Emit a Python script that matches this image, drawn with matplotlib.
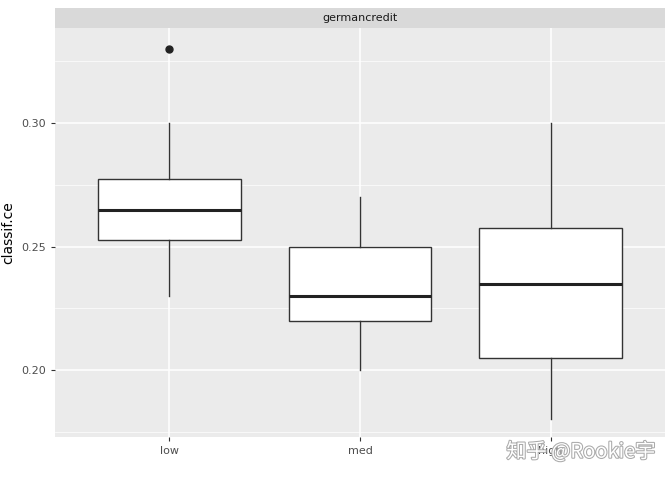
import matplotlib.pyplot as plt
import matplotlib.patheffects as pe
from matplotlib.patches import Rectangle

groups = ['low', 'med', 'high']
whislo = [0.23, 0.20, 0.18]
q1 = [0.2525, 0.22, 0.205]
med = [0.265, 0.23, 0.235]
q3 = [0.2775, 0.25, 0.2575]
whishi = [0.30, 0.27, 0.30]
fliers = [[0.33], [], []]

stats = [dict(label=g, whislo=a, q1=b, med=c, q3=d, whishi=e, fliers=f)
         for g, a, b, c, d, e, f in zip(groups, whislo, q1, med, q3, whishi, fliers)]

fig = plt.figure(figsize=(6.72, 4.8), dpi=100)
ax = fig.add_axes([55 / 672, 43 / 480, 610 / 672, 409 / 480])
ax.set_facecolor('#EBEBEB')
for s in ax.spines.values():
    s.set_visible(False)

ax.set_xlim(0.4, 3.6)
ax.set_ylim(0.1729, 0.3385)
ax.set_yticks([0.20, 0.25, 0.30])
ax.set_yticks([0.175, 0.225, 0.275, 0.325], minor=True)
ax.grid(True, which='major', color='white', linewidth=1.1)
ax.grid(True, which='minor', axis='y', color='white', linewidth=0.5)
ax.set_axisbelow(True)

ax.bxp(stats, positions=[1, 2, 3], widths=0.75, patch_artist=True, showcaps=False,
       boxprops=dict(facecolor='white', edgecolor='#333333', linewidth=1),
       medianprops=dict(color='#222222', linewidth=2.2),
       whiskerprops=dict(color='#333333', linewidth=1),
       flierprops=dict(marker='o', markerfacecolor='#222222', markeredgecolor='#222222', markersize=5))

ax.set_xticks([1, 2, 3])
ax.set_xticklabels(groups)
ax.tick_params(axis='both', which='major', colors='#333333', labelsize=8, length=3, labelcolor='#4D4D4D')
ax.tick_params(axis='y', which='minor', length=0)
ax.set_ylabel('classif.ce', fontsize=10)

fig.patches.append(Rectangle((55 / 672, 452 / 480), 610 / 672, 20 / 480,
                             transform=fig.transFigure, facecolor='#D9D9D9', edgecolor='none'))
fig.text(360 / 672, 462 / 480, 'germancredit', ha='center', va='center', fontsize=8, color='#1A1A1A')

fig.text(0.975, 0.058, '知乎 @Rookie宇', ha='right', va='center', fontsize=14.5, color='white',
         family=['Noto Sans CJK SC', 'DejaVu Sans'],
         path_effects=[pe.withStroke(linewidth=1.5, foreground='#AAAAAA')])

fig.savefig('out.png', dpi=100)
